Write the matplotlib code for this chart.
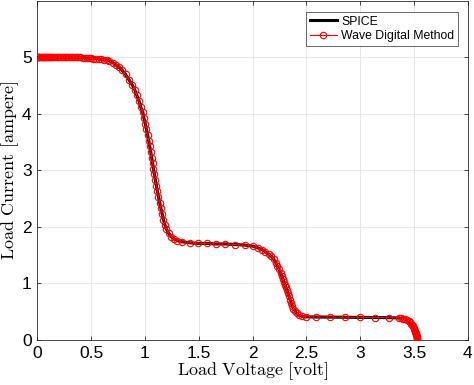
import matplotlib
matplotlib.use("Agg")
import matplotlib.pyplot as plt

# Data (Load Voltage [V], Load Current [A])
voltage = [
    0.0, 0.005, 0.01, 0.015, 0.02, 0.03, 0.04, 0.05, 0.06, 0.07, 0.08, 0.09,
    0.10, 0.11, 0.12, 0.13, 0.14, 0.15, 0.16, 0.175, 0.19, 0.205, 0.22, 0.235,
    0.25, 0.265, 0.28, 0.295, 0.31, 0.325, 0.34, 0.355, 0.37, 0.385, 0.40,
    0.42, 0.44, 0.46, 0.48, 0.50, 0.52, 0.545, 0.57, 0.595, 0.62, 0.645, 0.67,
    0.70, 0.73, 0.76, 0.79, 0.82, 0.85, 0.88,
    0.905, 0.925, 0.945, 0.96, 0.98, 0.99, 1.003, 1.014, 1.025, 1.035, 1.045,
    1.054, 1.063, 1.071, 1.079, 1.088, 1.097, 1.106, 1.116, 1.126, 1.137,
    1.148, 1.16, 1.172, 1.185, 1.20, 1.22, 1.245, 1.27, 1.30, 1.34,
    1.417, 1.494, 1.572, 1.658, 1.748, 1.841, 1.928, 2.005,
    2.05, 2.09, 2.12, 2.15, 2.175, 2.195, 2.215, 2.23, 2.245, 2.26, 2.27,
    2.28, 2.29, 2.30, 2.31, 2.32, 2.33, 2.34, 2.35, 2.36, 2.37, 2.38, 2.395,
    2.41, 2.43, 2.46, 2.50, 2.59, 2.72, 2.86, 3.0, 3.14, 3.27, 3.36,
    3.38, 3.40, 3.42, 3.435, 3.45, 3.46, 3.47, 3.48, 3.49, 3.497, 3.503,
    3.508, 3.512, 3.516, 3.519, 3.522, 3.524, 3.526, 3.528, 3.529, 3.53, 3.531,
]
current = [
    5.0, 5.0, 5.0, 5.0, 5.0, 5.0, 5.0, 5.0, 5.0, 5.0, 5.0, 5.0,
    5.0, 5.0, 5.0, 5.0, 5.0, 5.0, 5.0, 5.0, 5.0, 5.0, 5.0, 5.0,
    5.0, 5.0, 5.0, 5.0, 5.0, 5.0, 5.0, 5.0, 5.0, 5.0, 5.0,
    4.995, 4.993, 4.99, 4.988, 4.985, 4.982, 4.98, 4.975, 4.97, 4.96, 4.95, 4.94,
    4.91, 4.87, 4.83, 4.77, 4.70, 4.61, 4.52,
    4.43, 4.33, 4.23, 4.13, 4.03, 3.93, 3.83, 3.73, 3.63, 3.53, 3.43,
    3.33, 3.23, 3.13, 3.03, 2.93, 2.83, 2.73, 2.63, 2.53, 2.43,
    2.33, 2.23, 2.13, 2.04, 1.96, 1.89, 1.83, 1.79, 1.76, 1.74,
    1.72, 1.71, 1.71, 1.70, 1.70, 1.69, 1.68, 1.66,
    1.63, 1.60, 1.56, 1.52, 1.48, 1.43, 1.37, 1.31, 1.25, 1.19, 1.13,
    1.08, 1.03, 0.98, 0.93, 0.88, 0.83, 0.77, 0.71, 0.65, 0.60, 0.55, 0.51,
    0.47, 0.44, 0.42, 0.41, 0.407, 0.405, 0.403, 0.40, 0.398, 0.395, 0.39,
    0.385, 0.38, 0.365, 0.35, 0.33, 0.31, 0.29, 0.265, 0.24, 0.215, 0.19,
    0.165, 0.14, 0.12, 0.10, 0.08, 0.065, 0.05, 0.035, 0.02, 0.01, 0.0,
]

x_ticks = [0, 0.5, 1, 1.5, 2, 2.5, 3, 3.5, 4]
x_tick_labels = ["0", "0.5", "1", "1.5", "2", "2.5", "3", "3.5", "4"]
y_ticks = [0, 1, 2, 3, 4, 5]
y_tick_labels = ["0", "1", "2", "3", "4", "5"]

plt.rcParams["mathtext.fontset"] = "cm"
plt.rcParams["font.family"] = ["Liberation Sans", "DejaVu Sans"]

fig = plt.figure(figsize=(4.74, 3.85), dpi=100)
ax = fig.add_axes([0.0787, 0.1169, 0.9083, 0.8805])

ax.plot(voltage, current, color="black", linewidth=2.2, label="SPICE", zorder=3)
ax.plot(voltage, current, color="red", linewidth=0.8, marker="o",
        markersize=4.6, markerfacecolor="none", markeredgecolor="red",
        markeredgewidth=0.8, label="Wave Digital Method", zorder=4)

ax.set_xlim(0, 4)
ax.set_ylim(0, 6)
ax.set_xticks(x_ticks)
ax.set_xticklabels(x_tick_labels)
ax.set_yticks(y_ticks)
ax.set_yticklabels(y_tick_labels)

ax.grid(True, color="#e3e3e3", linewidth=0.6)
ax.set_axisbelow(True)
for s in ax.spines.values():
    s.set_color("#262626")
    s.set_linewidth(0.6)
ax.tick_params(direction="in", length=3, width=0.6, colors="#262626",
               labelsize=12.5, top=True, right=True, pad=4)
for lbl in ax.get_xticklabels() + ax.get_yticklabels():
    lbl.set_color("black")

ax.set_xlabel(r"$\mathrm{Load\ Voltage\ [volt]}$", fontsize=13, labelpad=0)
ax.set_ylabel(r"$\mathrm{Load\ Current\ [ampere]}$", fontsize=13, labelpad=1)

leg = ax.legend(loc="upper right", fontsize=8.8, frameon=True, fancybox=False,
                edgecolor="#262626", borderpad=0.3, handlelength=2.2,
                handletextpad=0.35, labelspacing=0.2, borderaxespad=0.0,
                bbox_to_anchor=(0.977, 0.968))
leg.get_frame().set_linewidth(0.6)

fig.savefig("out.png", dpi=100)
